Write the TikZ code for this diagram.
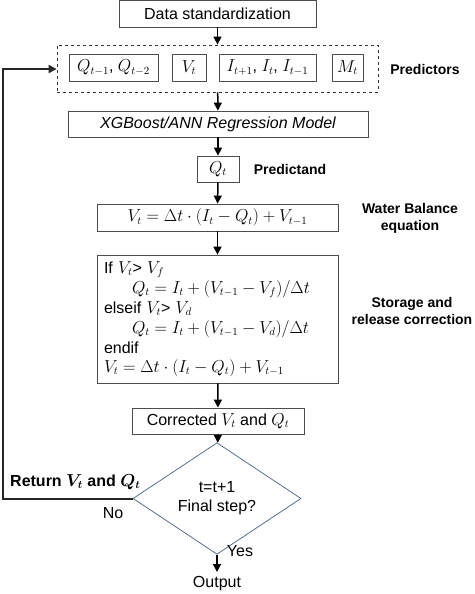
\documentclass[tikz,border=0pt]{standalone}
\usepackage{fontspec}
\usepackage{bm}
\setmainfont{Liberation Sans}
\usetikzlibrary{shapes.geometric,arrows.meta}
\definecolor{dia}{RGB}{70,95,135}
\begin{document}
\begin{tikzpicture}[x=1pt,y=-1pt,
  box/.style={draw=black!70,line width=0.8pt,inner sep=0pt,font=\fontsize{16}{19}\selectfont},
  lab/.style={font=\fontsize{14}{17}\selectfont\bfseries,align=center,inner sep=0pt},
  plain/.style={font=\fontsize{16}{19}\selectfont,inner sep=0pt},
  arr/.style={line width=1.5pt,-{Triangle[length=8pt,width=8pt]}}]
\useasboundingbox (0,0) rectangle (474,594);
\node[box,minimum width=197pt,minimum height=27pt] (data) at (217.5,13.5) {Data standardization};
\node[draw=black!80,dashed,line width=0.8pt,minimum width=321pt,minimum height=47pt,inner sep=0pt] (pred) at (217.5,68.5) {};
\node[box,minimum width=89pt,minimum height=27pt] (q) at (113.5,67.5) {$Q_{t-1}$, $Q_{t-2}$};
\node[box,minimum width=34pt,minimum height=27pt] (v) at (189,67.5) {$V_t$};
\node[box,minimum width=97pt,minimum height=27pt] (i) at (267.5,67.5) {$I_{t+1}$, $I_t$, $I_{t-1}$};
\node[box,minimum width=31pt,minimum height=27pt] (m) at (347.5,67.5) {$M_t$};
\node[lab] (predl) at (425,69) {Predictors};
\node[box,minimum width=300pt,minimum height=26pt,font=\fontsize{16}{19}\selectfont\itshape] (xgb) at (218,124) {XGBoost/ANN Regression Model};
\node[box,minimum width=42pt,minimum height=26pt] (qt) at (218,169) {$Q_t$};
\node[lab] (predt) at (290,169) {Predictand};
\node[box,minimum width=241pt,minimum height=27pt] (wb) at (217.5,217.5) {$V_t = \Delta t\cdot(I_t - Q_t) + V_{t-1}$};
\node[lab] (wbl) at (410,218.5) {Water Balance\\equation};
\node[box,minimum width=241pt,minimum height=128pt,text width=227pt,align=left,inner xsep=7pt] (st) at (217.5,319) {%
\fontsize{16}{20}\selectfont
If $V_t$> $V_f$\\
\hspace*{28pt}$Q_t = I_t + (V_{t-1} - V_f)/\Delta t$\\
elseif $V_t$> $V_d$\\
\hspace*{28pt}$Q_t = I_t + (V_{t-1} - V_d)/\Delta t$\\
endif\\
$V_t = \Delta t\cdot(I_t - Q_t) + V_{t-1}$};
\node[lab] (stl) at (412,310.5) {Storage and\\release correction};
\node[box,minimum width=172pt,minimum height=26pt] (cor) at (218,421) {Corrected $V_t$ and $Q_t$};
\node[draw=dia,line width=0.7pt,shape=diamond,minimum width=168pt,minimum height=75pt,inner sep=0pt,align=center,font=\fontsize{16}{19}\selectfont] (dec) at (217,498.5) {t=t+1\\Final step?};
\node[plain] (out) at (217,584) {Output};
\node[plain] (yes) at (240,551) {Yes};
\node[plain] (no) at (113,513) {No};
\node[anchor=west,inner sep=0pt,font=\fontsize{16}{19}\selectfont\bfseries] (ret) at (10,482) {Return $\bm{V_t}$ and $\bm{Q_t}$};
\coordinate (c1) at (3,498.5);
\coordinate (c2) at (3,69);
\draw[arr] (data) -- (pred);
\draw[arr] (pred) -- (xgb);
\draw[arr] (xgb) -- (qt);
\draw[arr] (qt) -- (wb);
\draw[arr] (wb) -- (st);
\draw[arr] (st) -- (cor);
\draw[arr] (cor) -- (dec);
\draw[arr] (dec) -- (217,572) coordinate (oend);
\draw[arr,line width=2pt,black!85] (dec.west) -- (c1) -- (c2) -- (pred.west |- c2);
\end{tikzpicture}
\end{document}
